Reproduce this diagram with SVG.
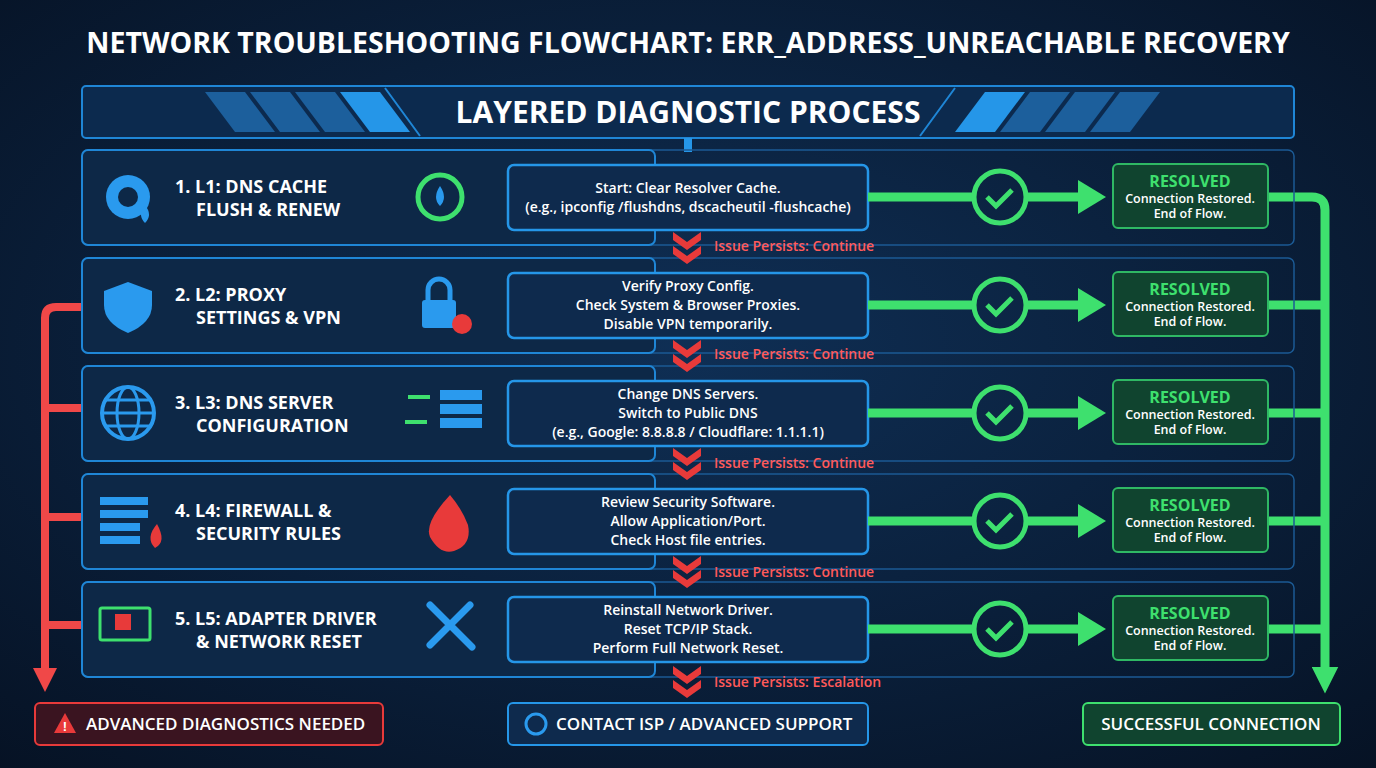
<svg xmlns="http://www.w3.org/2000/svg" width="1376" height="768" viewBox="0 0 1376 768">
<defs>
<radialGradient id="bg" cx="50%" cy="45%" r="75%"><stop offset="0" stop-color="#0f2f55"/><stop offset="1" stop-color="#061224"/></radialGradient>
<marker id="ga" viewBox="0 0 10 10" refX="5" refY="5" markerWidth="3" markerHeight="3" orient="auto"><path d="M0,0L10,5L0,10z" fill="#3ee06e"/></marker>
<marker id="ra" viewBox="0 0 10 10" refX="5" refY="5" markerWidth="3" markerHeight="3" orient="auto"><path d="M0,0L10,5L0,10z" fill="#f04848"/></marker>
<g id="chev"><path d="M-14,-12L0,-2L14,-12L14,-4L0,6L-14,-4z" fill="#e83a3a"/><path d="M-14,2L0,12L14,2L14,10L0,20L-14,10z" fill="#e83a3a"/></g>
</defs>
<style>
.t{font-family:"Open Sans","Liberation Sans",sans-serif;fill:#fff}
.row{fill:#0d2847;stroke:#1f86d6;stroke-width:2}
.outer{fill:none;stroke:#1b5a94;stroke-width:1.5}
.proc{fill:#0e2a4d;stroke:#2596e8;stroke-width:2.5}
.hd{font-size:18px;font-weight:700}
.pt{font-size:14px;font-weight:600;text-anchor:middle}
.res{fill:#10442f;stroke:#2fb864;stroke-width:2}
.rt{font-size:16px;font-weight:700;fill:#3ee06e;text-anchor:middle}
.rs{font-size:12.5px;font-weight:600;text-anchor:middle}
.ip{font-size:14px;font-weight:600;fill:#ff5a5a}
.gl{stroke:#3ee06e;stroke-width:9;fill:none}
.rl{stroke:#f04848;stroke-width:8;fill:none}
.chk{fill:none;stroke:#3ee06e;stroke-width:5}
.ic{fill:#2a9aee}
</style>
<rect width="1376" height="768" fill="url(#bg)"/>
<text class="t" x="688" y="53" font-size="28.5" font-weight="700" text-anchor="middle">NETWORK TROUBLESHOOTING FLOWCHART: ERR_ADDRESS_UNREACHABLE RECOVERY</text>
<g id="banner">
<rect x="82" y="86" width="1212" height="52" rx="4" fill="#0c2a4e" stroke="#1f86d6" stroke-width="2"/>
<path d="M205,92h40l30,40h-40zM250,92h40l30,40h-40zM295,92h40l30,40h-40z" fill="#1c5f9c"/>
<path d="M340,92h40l30,40h-40z" fill="#2596e8"/>
<path d="M385,88l35,48M955,88l-35,48" stroke="#1f86d6" stroke-width="2"/>
<path d="M985,92h40l-30,40h-40z" fill="#2596e8"/>
<path d="M1030,92h40l-30,40h-40zM1075,92h40l-30,40h-40zM1120,92h40l-30,40h-40z" fill="#1c5f9c"/>
<text class="t" x="688" y="123" font-size="30" font-weight="700" text-anchor="middle">LAYERED DIAGNOSTIC PROCESS</text>
</g>
<rect x="684" y="138" width="8" height="14" fill="#2596e8"/>
<g id="connectors">
<path class="rl" d="M82,307H56Q45,307 45,318V680" marker-end="url(#ra)"/>
<path class="rl" d="M45,408H82M45,517H82M45,625H82"/>
<path class="gl" d="M1268,197H1312Q1325,197 1325,210V680" marker-end="url(#ga)"/>
<path class="gl" d="M1268,305H1325M1268,413H1325M1268,521H1325M1268,629H1325"/>
</g>
<g id="rows">
<g id="r1"><rect class="outer" x="82" y="150" width="1212" height="95" rx="6"/><rect class="row" x="82" y="150" width="573" height="95" rx="6"/></g>
<g id="r2"><rect class="outer" x="82" y="258" width="1212" height="95" rx="6"/><rect class="row" x="82" y="258" width="573" height="95" rx="6"/></g>
<g id="r3"><rect class="outer" x="82" y="366" width="1212" height="95" rx="6"/><rect class="row" x="82" y="366" width="573" height="95" rx="6"/></g>
<g id="r4"><rect class="outer" x="82" y="474" width="1212" height="95" rx="6"/><rect class="row" x="82" y="474" width="573" height="95" rx="6"/></g>
<g id="r5"><rect class="outer" x="82" y="582" width="1212" height="95" rx="6"/><rect class="row" x="82" y="582" width="573" height="95" rx="6"/></g>
</g>
<g id="labels">
<text class="t hd" x="175" y="193">1. L1: DNS CACHE</text><text class="t hd" x="196" y="216">FLUSH &amp; RENEW</text>
<text class="t hd" x="175" y="301">2. L2: PROXY</text><text class="t hd" x="196" y="324">SETTINGS &amp; VPN</text>
<text class="t hd" x="175" y="409">3. L3: DNS SERVER</text><text class="t hd" x="196" y="432">CONFIGURATION</text>
<text class="t hd" x="175" y="517">4. L4: FIREWALL &amp;</text><text class="t hd" x="196" y="540">SECURITY RULES</text>
<text class="t hd" x="175" y="625">5. L5: ADAPTER DRIVER</text><text class="t hd" x="196" y="648">&amp; NETWORK RESET</text>
</g>
<g id="icons">
<circle cx="128" cy="197" r="22" class="ic"/><circle cx="128" cy="197" r="10" fill="#0d2847"/><path d="M145,205q-8,10 0,18q8-8 0-18z" fill="#2a9aee"/>
<circle cx="440" cy="197" r="22" fill="none" stroke="#3ee06e" stroke-width="5"/><path d="M440,186q-8,12 0,20q8-8 0-20z" fill="#2a9aee"/>
<path d="M128,282l24,9v14q0,18 -24,28q-24-10 -24-28v-14z" class="ic"/>
<rect x="422" y="300" width="34" height="28" rx="3" class="ic"/><path d="M428,300v-10a11,11 0 0 1 22,0v10" fill="none" stroke="#2a9aee" stroke-width="5"/><circle cx="462" cy="324" r="10" fill="#e83a3a"/>
<circle cx="128" cy="413" r="26" fill="none" stroke="#2a9aee" stroke-width="4"/><ellipse cx="128" cy="413" rx="11" ry="26" fill="none" stroke="#2a9aee" stroke-width="3"/><path d="M102,413h52M106,400h44M106,426h44" stroke="#2a9aee" stroke-width="3"/>
<rect x="440" y="390" width="42" height="10" class="ic"/><rect x="440" y="404" width="42" height="10" class="ic"/><rect x="440" y="418" width="42" height="10" class="ic"/><path d="M430,397h-22M405,422h22" stroke="#3ee06e" stroke-width="4"/>
<path d="M100,497h48v8h-48zM100,510h48v8h-48zM100,523h40v8h-40zM100,536h40v8h-40z" class="ic"/><path d="M157,524q-12,14 -2,24q12,-6 2,-24z" fill="#e83a3a"/>
<path d="M450,495q-26,28 -20,42q10,18 24,14q18,-6 14,-26q-6,-16 -18,-30z" fill="#e83a3a"/>
<rect x="100" y="608" width="50" height="32" rx="2" fill="none" stroke="#3ee06e" stroke-width="3"/><rect x="115" y="614" width="16" height="16" fill="#e83a3a"/>
<path d="M430,605l42,42M470,605l-40,40" stroke="#2a9aee" stroke-width="7" stroke-linecap="round"/>
</g>
<g id="procs">
<rect class="proc" x="508" y="165" width="360" height="65" rx="6"/><text class="t pt" x="688" y="193">Start: Clear Resolver Cache.</text><text class="t pt" x="688" y="212" font-weight="400">(e.g., ipconfig /flushdns, dscacheutil -flushcache)</text>
<rect class="proc" x="508" y="273" width="360" height="65" rx="6"/><text class="t pt" x="688" y="291">Verify Proxy Config.</text><text class="t pt" x="688" y="310">Check System &amp; Browser Proxies.</text><text class="t pt" x="688" y="329">Disable VPN temporarily.</text>
<rect class="proc" x="508" y="381" width="360" height="65" rx="6"/><text class="t pt" x="688" y="399">Change DNS Servers.</text><text class="t pt" x="688" y="418">Switch to Public DNS</text><text class="t pt" x="688" y="437" font-weight="400">(e.g., Google: 8.8.8.8 / Cloudflare: 1.1.1.1)</text>
<rect class="proc" x="508" y="489" width="360" height="65" rx="6"/><text class="t pt" x="688" y="507">Review Security Software.</text><text class="t pt" x="688" y="526">Allow Application/Port.</text><text class="t pt" x="688" y="545">Check Host file entries.</text>
<rect class="proc" x="508" y="597" width="360" height="65" rx="6"/><text class="t pt" x="688" y="615">Reinstall Network Driver.</text><text class="t pt" x="688" y="634">Reset TCP/IP Stack.</text><text class="t pt" x="688" y="653">Perform Full Network Reset.</text>
</g>
<g id="persists">
<use href="#chev" x="687" y="244"/><text class="t ip" x="714" y="251">Issue Persists: Continue</text>
<use href="#chev" x="687" y="352"/><text class="t ip" x="714" y="359">Issue Persists: Continue</text>
<use href="#chev" x="687" y="460"/><text class="t ip" x="714" y="468">Issue Persists: Continue</text>
<use href="#chev" x="687" y="568"/><text class="t ip" x="714" y="577">Issue Persists: Continue</text>
<use href="#chev" x="687" y="678"/><text class="t ip" x="714" y="687">Issue Persists: Escalation</text>
</g>
<g id="resolved">
<g><path class="gl" d="M868,197H972M1028,197H1080" /><path d="M1078,180L1106,197L1078,214z" fill="#3ee06e"/><circle class="chk" cx="1000" cy="197" r="26"/><path class="chk" d="M987,197l9,9l16-16"/><rect class="res" x="1113" y="164" width="155" height="64" rx="5"/><text class="t rt" x="1190" y="187">RESOLVED</text><text class="t rs" x="1190" y="203">Connection Restored.</text><text class="t rs" x="1190" y="218">End of Flow.</text></g>
<g><path class="gl" d="M868,305H972M1028,305H1080"/><path d="M1078,288L1106,305L1078,322z" fill="#3ee06e"/><circle class="chk" cx="1000" cy="305" r="26"/><path class="chk" d="M987,305l9,9l16-16"/><rect class="res" x="1113" y="272" width="155" height="64" rx="5"/><text class="t rt" x="1190" y="295">RESOLVED</text><text class="t rs" x="1190" y="311">Connection Restored.</text><text class="t rs" x="1190" y="326">End of Flow.</text></g>
<g><path class="gl" d="M868,413H972M1028,413H1080"/><path d="M1078,396L1106,413L1078,430z" fill="#3ee06e"/><circle class="chk" cx="1000" cy="413" r="26"/><path class="chk" d="M987,413l9,9l16-16"/><rect class="res" x="1113" y="380" width="155" height="64" rx="5"/><text class="t rt" x="1190" y="403">RESOLVED</text><text class="t rs" x="1190" y="419">Connection Restored.</text><text class="t rs" x="1190" y="434">End of Flow.</text></g>
<g><path class="gl" d="M868,521H972M1028,521H1080"/><path d="M1078,504L1106,521L1078,538z" fill="#3ee06e"/><circle class="chk" cx="1000" cy="521" r="26"/><path class="chk" d="M987,521l9,9l16-16"/><rect class="res" x="1113" y="488" width="155" height="64" rx="5"/><text class="t rt" x="1190" y="511">RESOLVED</text><text class="t rs" x="1190" y="527">Connection Restored.</text><text class="t rs" x="1190" y="542">End of Flow.</text></g>
<g><path class="gl" d="M868,629H972M1028,629H1080"/><path d="M1078,612L1106,629L1078,646z" fill="#3ee06e"/><circle class="chk" cx="1000" cy="629" r="26"/><path class="chk" d="M987,629l9,9l16-16"/><rect class="res" x="1113" y="596" width="155" height="64" rx="5"/><text class="t rt" x="1190" y="619">RESOLVED</text><text class="t rs" x="1190" y="635">Connection Restored.</text><text class="t rs" x="1190" y="650">End of Flow.</text></g>
</g>
<g id="bottom">
<rect x="35" y="703" width="348" height="42" rx="5" fill="#3a1420" stroke="#e83a3a" stroke-width="2"/><path d="M65,713l11,20h-22z" fill="#e83a3a"/><text x="65" y="731" font-size="13" font-weight="700" fill="#fff" text-anchor="middle" font-family="Liberation Sans,sans-serif">!</text><text class="t" x="86" y="730" font-size="17" font-weight="600">ADVANCED DIAGNOSTICS NEEDED</text>
<rect x="508" y="703" width="360" height="42" rx="5" fill="#0e2a4d" stroke="#2596e8" stroke-width="2"/><circle cx="536" cy="724" r="10" fill="none" stroke="#2a9aee" stroke-width="3"/><text class="t" x="556" y="730" font-size="17" font-weight="600">CONTACT ISP / ADVANCED SUPPORT</text>
<rect x="1083" y="703" width="257" height="42" rx="5" fill="#10442f" stroke="#3ee06e" stroke-width="2"/><text class="t" x="1211" y="730" font-size="17" font-weight="600" text-anchor="middle">SUCCESSFUL CONNECTION</text>
</g>
</svg>
